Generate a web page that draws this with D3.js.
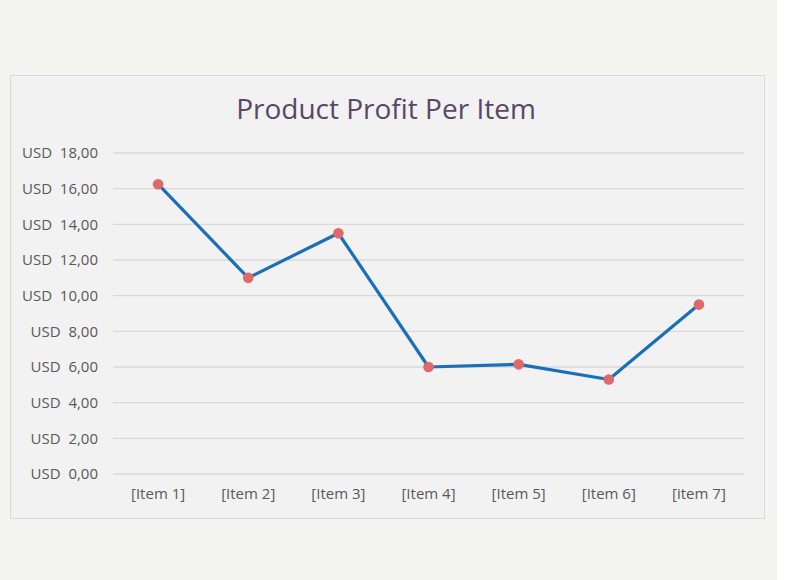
<!DOCTYPE html>
<html>
<head>
<meta charset="utf-8">
<script src="https://cdn.jsdelivr.net/npm/d3@7"></script>
<style>
  html, body { margin: 0; padding: 0; background: #ffffff; }
  text { font-family: "Open Sans", "Noto Sans", sans-serif; }
</style>
</head>
<body>
<div id="container"></div>
<script>
/* DATA */
const items = ["[Item 1]", "[Item 2]", "[Item 3]", "[Item 4]", "[Item 5]", "[Item 6]", "[item 7]"];
const profits = [16.25, 11.0, 13.5, 6.0, 6.15, 5.3, 9.5];
const yTicks = [0, 2, 4, 6, 8, 10, 12, 14, 16, 18];

/* CONSTANTS */
const width = 794,
  height = 580,
  margin = { top: 153, bottom: 106, left: 113, right: 50 };

const svg = d3.select("#container")
  .append("svg")
  .attr("width", width)
  .attr("height", height);

// page background + chart box
svg.append("rect")
  .attr("x", 0).attr("y", 0)
  .attr("width", 777).attr("height", height)
  .attr("fill", "#f4f4f3");

svg.append("rect")
  .attr("x", 10.5).attr("y", 75.5)
  .attr("width", 754).attr("height", 443)
  .attr("fill", "#f2f2f2")
  .attr("stroke", "#d9d9d9")
  .attr("stroke-width", 1);

/* SCALES */
const xScale = d3.scaleBand()
  .domain(items)
  .range([margin.left, width - margin.right]);

const yScale = d3.scaleLinear()
  .domain([0, 18])
  .range([height - margin.bottom, margin.top]);

// gridlines
svg.append("g")
  .selectAll("line")
  .data(yTicks)
  .join("line")
  .attr("x1", margin.left)
  .attr("x2", width - margin.right)
  .attr("y1", d => yScale(d))
  .attr("y2", d => yScale(d))
  .attr("stroke", "#d9d9d9")
  .attr("stroke-width", 1.3);

// y axis labels
const fmt = d => "USD\u00a0\u00a0" + d3.format(".2f")(d).replace(".", ",");
const yAxis = d3.axisLeft(yScale)
  .tickValues(yTicks)
  .tickFormat(fmt)
  .tickSize(0)
  .tickPadding(15);
svg.append("g")
  .attr("transform", `translate(${margin.left}, 0)`)
  .call(yAxis)
  .call(g => g.select(".domain").remove())
  .call(g => g.selectAll("text")
    .attr("fill", "#595959")
    .style("font-size", "15px")
    .style("font-family", "'Open Sans', sans-serif"));

// x axis labels
const xAxis = d3.axisBottom(xScale).tickSize(0).tickPadding(14);
svg.append("g")
  .attr("transform", `translate(0, ${height - margin.bottom})`)
  .call(xAxis)
  .call(g => g.select(".domain").remove())
  .call(g => g.selectAll("text")
    .attr("fill", "#595959")
    .style("font-size", "15px")
    .style("font-family", "'Open Sans', sans-serif"));

// title
svg.append("text")
  .attr("x", 386)
  .attr("y", 119)
  .attr("text-anchor", "middle")
  .attr("fill", "#5a4766")
  .style("font-size", "28px")
  .text("Product Profit Per Item");

// line
const line = d3.line()
  .x((d, i) => xScale(items[i]) + xScale.bandwidth() / 2)
  .y(d => yScale(d));

svg.append("path")
  .datum(profits)
  .attr("d", line)
  .attr("fill", "none")
  .attr("stroke", "#1b6fba")
  .attr("stroke-width", 3.2)
  .attr("stroke-linejoin", "round");

// markers
svg.selectAll("circle")
  .data(profits)
  .join("circle")
  .attr("cx", (d, i) => xScale(items[i]) + xScale.bandwidth() / 2)
  .attr("cy", d => yScale(d))
  .attr("r", 5.3)
  .attr("fill", "#df6868");
</script>
</body>
</html>
